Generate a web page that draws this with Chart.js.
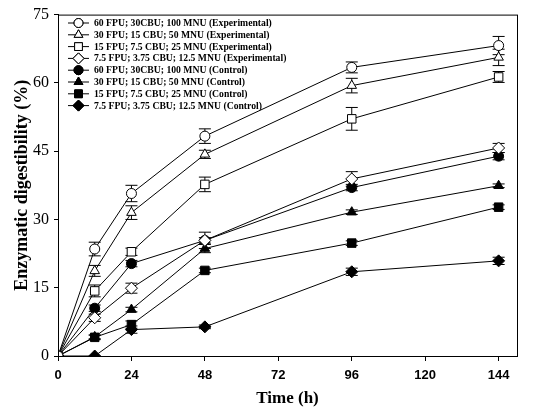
<!DOCTYPE html>
<html>
<head>
<meta charset="utf-8">
<script src="https://cdn.jsdelivr.net/npm/chart.js@4.4.0/dist/chart.umd.min.js"></script>
<style>
    html, body { margin: 0; padding: 0; background: #fff; }
    #wrap { width: 550px; height: 419px; position: relative; }
</style>
</head>
<body>
<div id="wrap"><canvas id="chart"></canvas></div>
<script>
// Temps d'échantillonnage (h)
const hours = [0, 12, 24, 48, 96, 144];
const xTicks = [0, 24, 48, 72, 96, 120, 144];
const yTicks = [0, 15, 30, 45, 60, 75];

const seriesNames = [
    '60 FPU; 30CBU; 100 MNU (Experimental)',
    '30 FPU; 15 CBU; 50 MNU (Experimental)',
    '15 FPU; 7.5 CBU; 25 MNU (Experimental)',
    '7.5 FPU; 3.75 CBU; 12.5 MNU (Experimental)',
    '60 FPU; 30CBU; 100 MNU (Control)',
    '30 FPU; 15 CBU; 50 MNU (Control)',
    '15 FPU; 7.5 CBU; 25 MNU (Control)',
    '7.5 FPU; 3.75 CBU; 12.5 MNU (Control)'
];

// valeurs moyennes (%)
const exp60 = [0, 23.5, 35.7, 48.3, 63.4, 68.2];
const exp30 = [0, 18.7, 31.5, 44.3, 59.4, 65.6];
const exp15 = [0, 14.3, 22.9, 37.7, 52.1, 61.3];
const exp75 = [0, 8.4, 14.9, 25.4, 38.9, 45.7];
const ctl60 = [0, 10.5, 20.3, 25.4, 37.0, 43.9];
const ctl30 = [0, 4.2, 10.2, 23.6, 31.6, 37.4];
const ctl15 = [0, 4.1, 6.9, 18.8, 24.8, 32.7];
const ctl75 = [0, 0, 5.8, 6.4, 18.5, 20.9];

// écarts-types
const errExp60 = [0, 1.5, 1.8, 1.6, 1.2, 2.0];
const errExp30 = [0, 1.2, 1.5, 0.9, 1.6, 1.8];
const errExp15 = [0, 1.3, 0.8, 1.6, 2.5, 1.2];
const errExp75 = [0, 0.8, 1.1, 1.8, 1.6, 1.0];
const errCtl60 = [0, 0.7, 0.7, 0.6, 0.7, 0.8];
const errCtl30 = [0, 0.4, 0.5, 0.9, 0.5, 0.4];
const errCtl15 = [0, 0.5, 0.8, 0.5, 0.5, 0.5];
const errCtl75 = [0, 0, 0.8, 0.4, 0.8, 0.8];

const values = [exp60, exp30, exp15, exp75, ctl60, ctl30, ctl15, ctl75];
const errors = [errExp60, errExp30, errExp15, errExp75, errCtl60, errCtl30, errCtl15, errCtl75];
const shapes = ['circle', 'triangle', 'rect', 'rectRot', 'circle', 'triangle', 'rect', 'rectRot'];
const radii = [5, 5.5, 6, 6, 5, 5.5, 6, 6];

const datasets = values.map((vals, i) => ({
    label: seriesNames[i],
    data: vals.map((v, j) => ({ x: hours[j], y: v })),
    errors: errors[i],
    borderColor: '#000',
    borderWidth: 1,
    pointStyle: shapes[i],
    pointRadius: radii[i],
    pointBorderWidth: 1,
    pointBorderColor: '#000',
    pointBackgroundColor: i < 4 ? '#fff' : '#000',
    tension: 0,
    fill: false
}));

// Barres d'erreur dessinées avec les échelles du graphique
const errorBars = {
    id: 'errorBars',
    beforeDatasetsDraw(chart) {
        const { ctx, scales: { x, y } } = chart;
        ctx.save();
        ctx.strokeStyle = '#000';
        ctx.lineWidth = 1;
        chart.data.datasets.forEach(ds => {
            ds.data.forEach((p, j) => {
                const e = ds.errors[j];
                if (!e) return;
                const px = x.getPixelForValue(p.x);
                const top = y.getPixelForValue(p.y + e);
                const bot = y.getPixelForValue(p.y - e);
                ctx.beginPath();
                ctx.moveTo(px, top); ctx.lineTo(px, bot);
                ctx.moveTo(px - 6, top); ctx.lineTo(px + 6, top);
                ctx.moveTo(px - 6, bot); ctx.lineTo(px + 6, bot);
                ctx.stroke();
            });
        });
        ctx.restore();
    }
};

// Cadre + légende à l'intérieur de la zone de tracé
const frameLegend = {
    id: 'frameLegend',
    afterDraw(chart) {
        const { ctx, chartArea: a } = chart;
        ctx.save();
        ctx.strokeStyle = '#000';
        ctx.lineWidth = 1;
        ctx.strokeRect(a.left + 0.5, a.top + 0.5, a.right - a.left, a.bottom - a.top);

        ctx.font = 'bold 9.7px "Liberation Serif", serif';
        ctx.textBaseline = 'middle';
        ctx.fillStyle = '#000';
        chart.data.datasets.forEach((ds, i) => {
            const yy = 23 + i * 11.8;
            ctx.beginPath();
            ctx.moveTo(68, yy); ctx.lineTo(89, yy);
            ctx.stroke();
            Chart.helpers.drawPoint(ctx, {
                pointStyle: ds.pointStyle,
                radius: ds.pointRadius - 0.5,
                borderWidth: 1
            }, 78.5, yy);
            ctx.fillStyle = ds.pointBackgroundColor;
            ctx.fill();
            ctx.stroke();
            ctx.fillStyle = '#000';
            ctx.fillText(ds.label, 94, yy + 0.5);
        });
        ctx.restore();
    }
};

new Chart(document.getElementById('chart'), {
    type: 'line',
    data: { datasets },
    plugins: [errorBars, frameLegend],
    options: {
        responsive: true,
        maintainAspectRatio: false,
        animation: false,
        layout: { padding: { top: 10, right: 33, left: 0, bottom: 0 } },
        plugins: { legend: { display: false }, tooltip: { enabled: false } },
        scales: {
            x: {
                type: 'linear',
                min: 0,
                max: 150,
                afterBuildTicks: s => { s.ticks = xTicks.map(v => ({ value: v })); },
                afterFit: s => { s.height = 63; },
                border: { display: true, color: '#000', width: 1 },
                grid: { drawOnChartArea: false, color: '#000', tickLength: 5 },
                ticks: {
                    color: '#000',
                    padding: 7,
                    maxRotation: 0,
                    font: { family: '"Liberation Sans", Arial, sans-serif', size: 13, weight: 'bold' }
                },
                title: {
                    display: true,
                    text: 'Time (h)',
                    color: '#000',
                    padding: { top: 0, bottom: 10 },
                    font: { family: '"Liberation Serif", serif', size: 17, weight: 'bold' }
                }
            },
            y: {
                min: 0,
                max: 75,
                afterBuildTicks: s => { s.ticks = yTicks.map(v => ({ value: v })); },
                afterFit: s => { s.width = 58; },
                border: { display: true, color: '#000', width: 1 },
                grid: { drawOnChartArea: false, color: '#000', tickLength: 4 },
                ticks: {
                    color: '#000',
                    padding: 5,
                    font: { family: '"Liberation Serif", serif', size: 16 }
                },
                title: {
                    display: true,
                    text: 'Enzymatic digestibility (%)',
                    color: '#000',
                    padding: { top: 12, bottom: 0 },
                    font: { family: '"Liberation Serif", serif', size: 18, weight: 'bold' }
                }
            }
        }
    }
});
</script>
</body>
</html>
